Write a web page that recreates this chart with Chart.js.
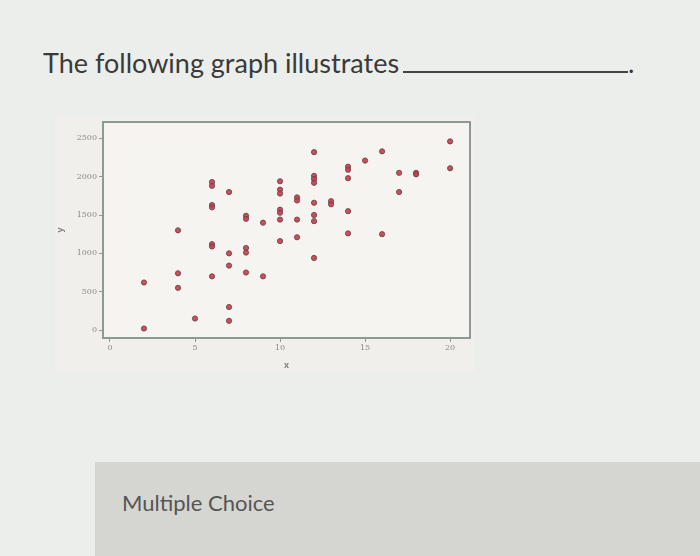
<!DOCTYPE html>
<html>
<head>
<meta charset="utf-8">
<script src="https://cdn.jsdelivr.net/npm/chart.js@4.4.1/dist/chart.umd.min.js"></script>
<style>
  html, body { margin: 0; padding: 0; }
  body { width: 700px; height: 556px; position: relative; overflow: hidden;
         background: #eceeec; font-family: Lato, "Open Sans", sans-serif; }
  #title { position: absolute; left: 43px; top: 46px; font-size: 27px; color: #3a3a3a; white-space: nowrap; }
  #blank { display: inline-block; width: 225px; border-bottom: 2px solid #444; margin-left: -3px; height: 24px; }
  #card { position: absolute; left: 55px; top: 115px; width: 420px; height: 257px; background: #f0efeb; }
  #wrap { position: absolute; left: 55px; top: 115px; width: 420px; height: 260px; }
  #choice { position: absolute; left: 95px; top: 462px; width: 605px; height: 94px; background: #d5d5d2; }
  #choice span { position: absolute; left: 27px; top: 27px; font-size: 22px; color: #555; }
</style>
</head>
<body>
<div id="title">The following graph illustrates <span id="blank"></span>.</div>
<div id="card"></div>
<div id="wrap"><canvas id="scatter" width="420" height="260"></canvas></div>
<div id="choice"><span>Multiple Choice</span></div>
<script>
// valores
var xValues = [2, 2,
  4, 4, 4,
  5,
  6, 6, 6, 6, 6, 6, 6,
  7, 7, 7, 7, 7,
  8, 8, 8, 8, 8,
  9, 9,
  10, 10, 10, 10, 10, 10, 10,
  11, 11, 11, 11,
  12, 12, 12, 12, 12, 12, 12, 12,
  13, 13,
  14, 14, 14, 14, 14,
  15,
  16, 16,
  17, 17,
  18, 18,
  20, 20];
var yValues = [620, 20,
  1300, 740, 550,
  150,
  1930, 1880, 1630, 1600, 1120, 1090, 700,
  1800, 1000, 840, 300, 120,
  1490, 1450, 1070, 1010, 750,
  1400, 700,
  1940, 1830, 1780, 1570, 1530, 1440, 1160,
  1730, 1690, 1440, 1210,
  2320, 2010, 1970, 1920, 1660, 1500, 1420, 940,
  1680, 1640,
  2130, 2090, 1980, 1550, 1260,
  2210,
  2330, 1250,
  2050, 1800,
  2050, 2030,
  2460, 2110];
var xTicks = [0, 5, 10, 15, 20];
var yTicks = [0, 500, 1000, 1500, 2000, 2500];

var points = [];
for (var i = 0; i < xValues.length; i++) {
  points.push({ x: xValues[i], y: yValues[i] });
}

var axisColor = '#8d9a93';

// moldura em volta da área do gráfico
var framePlugin = {
  id: 'frame',
  beforeDatasetsDraw: function(chart) {
    var a = chart.chartArea, c = chart.ctx;
    c.save();
    c.fillStyle = '#f5f4f1';
    c.fillRect(a.left, a.top, a.right - a.left, a.bottom - a.top);
    c.strokeStyle = axisColor;
    c.lineWidth = 2;
    c.strokeRect(a.left, a.top, a.right - a.left, a.bottom - a.top);
    c.restore();
  }
};

function plainLabel(value) { return String(value); }

var ctx = document.getElementById('scatter').getContext('2d');
var chart = new Chart(ctx, {
  type: 'scatter',
  data: {
    datasets: [{
      label: 'y',
      data: points,
      backgroundColor: 'rgba(200, 60, 72, 0.9)',
      borderColor: 'rgba(110, 70, 78, 0.9)',
      borderWidth: 1,
      pointRadius: 2.6
    }]
  },
  options: {
    responsive: false,
    animation: false,
    layout: { padding: { top: 7, right: 2, left: 0, bottom: 0 } },
    plugins: { legend: { display: false }, tooltip: { enabled: false } },
    scales: {
      x: {
        type: 'linear',
        min: -0.41,
        max: 21.17,
        afterBuildTicks: function(scale) {
          scale.ticks = xTicks.map(function(v) { return { value: v }; });
        },
        afterFit: function(scale) { scale.height = 37; },
        grid: { drawOnChartArea: false, color: axisColor, tickLength: 4, lineWidth: 1 },
        border: { display: false },
        ticks: { color: '#8a8a8a', font: { size: 8, family: 'DejaVu Serif' }, padding: 1, maxRotation: 0, callback: plainLabel },
        title: { display: true, text: 'x', color: '#777', font: { size: 9, weight: 'bold' }, padding: { top: 0 } }
      },
      y: {
        type: 'linear',
        min: -104,
        max: 2713,
        afterBuildTicks: function(scale) {
          scale.ticks = yTicks.map(function(v) { return { value: v }; });
        },
        afterFit: function(scale) { scale.width = 48; },
        grid: { drawOnChartArea: false, color: axisColor, tickLength: 4, lineWidth: 1 },
        border: { display: false },
        ticks: { color: '#8a8a8a', font: { size: 8, family: 'DejaVu Serif' }, padding: 2, callback: plainLabel },
        title: { display: true, text: 'y', color: '#777', font: { size: 9, weight: 'bold' }, padding: 0 }
      }
    }
  },
  plugins: [framePlugin]
});
</script>
</body>
</html>
